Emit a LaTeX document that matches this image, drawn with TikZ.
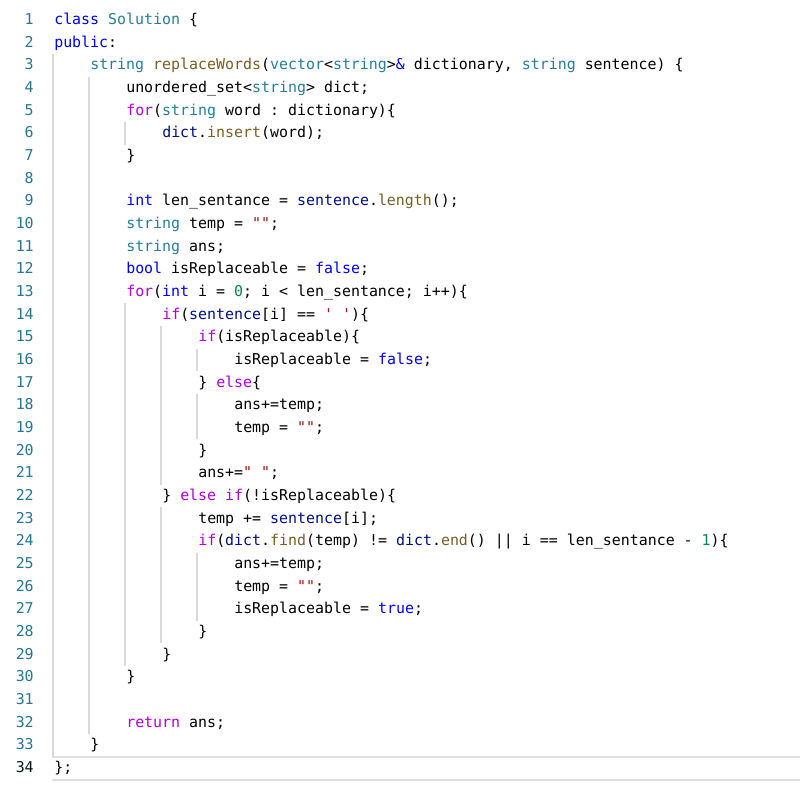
\documentclass[tikz,border=0pt]{standalone}
\usepackage{fontspec}
\setmonofont{DejaVu Sans Mono}
\definecolor{kwblue}{HTML}{0000FF}
\definecolor{tyteal}{HTML}{267F99}
\definecolor{fnbrown}{HTML}{795E26}
\definecolor{ctpurple}{HTML}{AF00DB}
\definecolor{vrnavy}{HTML}{001080}
\definecolor{ststr}{HTML}{A31515}
\definecolor{nmgreen}{HTML}{098658}
\definecolor{lnteal}{HTML}{237893}
\newcommand\kw[1]{\textcolor{kwblue}{#1}}
\newcommand\ty[1]{\textcolor{tyteal}{#1}}
\newcommand\fn[1]{\textcolor{fnbrown}{#1}}
\newcommand\ct[1]{\textcolor{ctpurple}{#1}}
\newcommand\vr[1]{\textcolor{vrnavy}{#1}}
\newcommand\st[1]{\textcolor{ststr}{#1}}
\newcommand\nm[1]{\textcolor{nmgreen}{#1}}
% line, indent level, text
\newcommand\codeln[3]{\node[codetext] (c#1) at ({54+36*#2},{24.5+(#1-1)*22.667}) {#3};}
\newcommand\guide[3]{\draw[guideline] ({53+36*#1},{8.7+(#2-1)*22.667}) -- ({53+36*#1},{31.3+(#3-1)*22.667});}

\begin{document}
\begin{tikzpicture}[x=0.75pt,y=-0.75pt,
  codetext/.style={anchor=base west,inner sep=0pt,font=\ttfamily\fontsize{11.2}{13}\selectfont},
  lineno/.style={anchor=base east,inner sep=0pt,font=\ttfamily\fontsize{11.2}{13}\selectfont,text=lnteal},
  guideline/.style={draw=black!15,line width=0.8pt}]
\useasboundingbox[fill=white] (0,0) rectangle (800,790);

% current line box
\draw[black!12,line width=0.9pt] (52,757) -- (800,757) (52,780) -- (800,780);

% indent guides
\guide{0}{3}{33}
\guide{1}{4}{32}
\guide{2}{6}{6}
\guide{2}{14}{29}
\guide{3}{15}{21}
\guide{3}{23}{28}
\guide{4}{16}{16}
\guide{4}{18}{19}
\guide{4}{25}{27}

% line numbers
\foreach \n in {1,...,33}
  \node[lineno] (n\n) at (34,{24.5+(\n-1)*22.667}) {\n};
\node[lineno,text=black!80!lnteal] (n34) at (34,{24.5+33*22.667}) {34};

% code
\codeln{1}{0}{\kw{class} \ty{Solution} \{}
\codeln{2}{0}{\kw{public}:}
\codeln{3}{1}{\ty{string} \fn{replaceWords}(\ty{vector}<\ty{string}>\kw{\&} dictionary, \ty{string} sentence) \{}
\codeln{4}{2}{unordered\_set<\ty{string}> dict;}
\codeln{5}{2}{\ct{for}(\ty{string} word : dictionary)\{}
\codeln{6}{3}{\vr{dict}.\fn{insert}(word);}
\codeln{7}{2}{\}}
\codeln{9}{2}{\kw{int} len\_sentance = \vr{sentence}.\fn{length}();}
\codeln{10}{2}{\ty{string} temp = \st{""};}
\codeln{11}{2}{\ty{string} ans;}
\codeln{12}{2}{\kw{bool} isReplaceable = \kw{false};}
\codeln{13}{2}{\ct{for}(\kw{int} i = \nm{0}; i < len\_sentance; i++)\{}
\codeln{14}{3}{\ct{if}(\vr{sentence}[i] == \st{' '})\{}
\codeln{15}{4}{\ct{if}(isReplaceable)\{}
\codeln{16}{5}{isReplaceable = \kw{false};}
\codeln{17}{4}{\} \ct{else}\{}
\codeln{18}{5}{ans+=temp;}
\codeln{19}{5}{temp = \st{""};}
\codeln{20}{4}{\}}
\codeln{21}{4}{ans+=\st{" "};}
\codeln{22}{3}{\} \ct{else} \ct{if}(!isReplaceable)\{}
\codeln{23}{4}{temp += \vr{sentence}[i];}
\codeln{24}{4}{\ct{if}(\vr{dict}.\fn{find}(temp) != \vr{dict}.\fn{end}() || i == len\_sentance - \nm{1})\{}
\codeln{25}{5}{ans+=temp;}
\codeln{26}{5}{temp = \st{""};}
\codeln{27}{5}{isReplaceable = \kw{true};}
\codeln{28}{4}{\}}
\codeln{29}{3}{\}}
\codeln{30}{2}{\}}
\codeln{32}{2}{\ct{return} ans;}
\codeln{33}{1}{\}}
\codeln{34}{0}{\};}
\end{tikzpicture}
\end{document}
